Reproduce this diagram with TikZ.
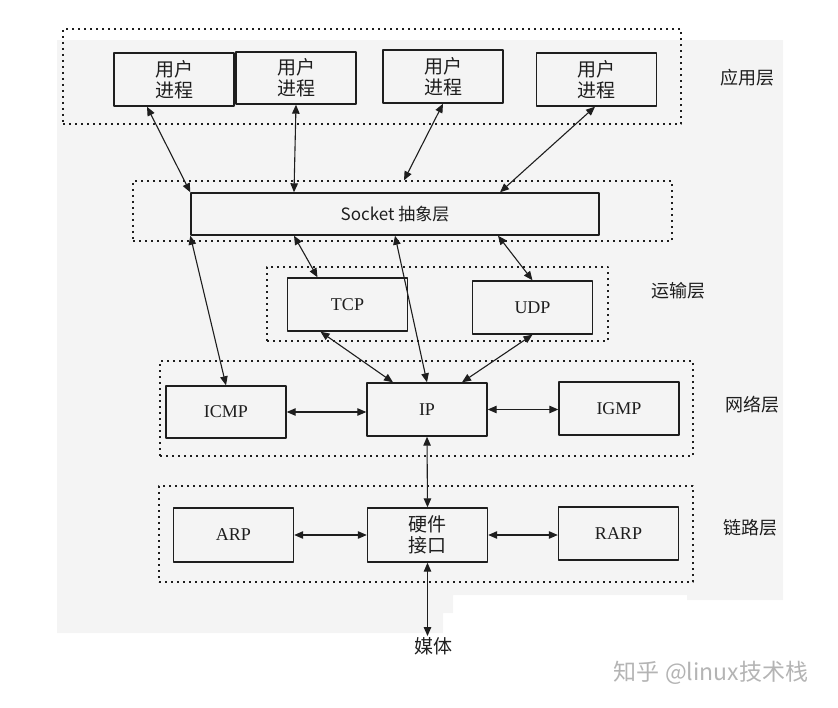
\documentclass[tikz,border=0pt]{standalone}
\usepackage{fontspec}
\setmainfont{Liberation Serif}
\newfontfamily\cjk{Noto Sans CJK SC}
\usepackage{tikz}
\usetikzlibrary{arrows.meta,positioning,calc}
\definecolor{bggray}{RGB}{244,244,244}
\definecolor{inkgray}{RGB}{30,30,30}
\definecolor{markgray}{RGB}{180,180,180}
\newcommand \mylayer[4]
{
\node[layer, minimum width=#3, minimum height=#4] (#1) at (#2) {};
}

\begin{document}
\begin{tikzpicture}[x=1pt, y=-1pt, line join=round,
  proc/.style={draw=inkgray, line width=1.4pt, minimum width=120pt, minimum height=53pt,
    inner sep=0pt, align=center, text=inkgray, font=\cjk\fontsize{19}{21}\selectfont},
  proto/.style={proc, font=\fontsize{18}{20}\selectfont},
  layer/.style={draw=inkgray, line width=1.3pt, dash pattern=on 1.6pt off 4.4pt, inner sep=0pt},
  layername/.style={text=inkgray, font=\cjk\fontsize{18}{20}\selectfont},
  link/.style={draw=inkgray, line width=1.1pt,
    {Triangle[length=9pt,width=7.5pt]}-{Triangle[length=9pt,width=7.5pt]}}]
\useasboundingbox (0,0) rectangle (838,707);
\fill[bggray] (57,40) -- (783,40) -- (783,600) -- (687,600) -- (687,595) -- (453,595)
  -- (453,613) -- (443,613) -- (443,633) -- (57,633) -- cycle;
% dotted layer frames
\mylayer{app}{372,76.5}{618pt}{95pt}
\mylayer{sock}{402.5,211}{539pt}{60pt}
\mylayer{tran}{437.5,304}{341pt}{74pt}
\mylayer{net}{426.5,408.5}{533pt}{95pt}
\mylayer{link}{426,534}{534pt}{96pt}
\node[layername] (appname) at (747,78) {应用层};
\node[layername] (tranname) at (678,291) {运输层};
\node[layername] (netname) at (752,405) {网络层};
\node[layername] (linkname) at (750,528) {链路层};
% boxes
\node[proc] (user1) at (174,79.5) {用户\\进程};
\node[proc, minimum height=52pt] (user2) at (296,78) {用户\\进程};
\node[proc] (user3) at (443,76.5) {用户\\进程};
\node[proc] (user4) at (596.5,79.5) {用户\\进程};
\node[proc, minimum width=408pt, minimum height=42pt, font=\cjk\fontsize{17}{19}\selectfont] (socket) at (395,214) {Socket 抽象层};
\node[proto] (tcp) at (347.5,304.5) {TCP};
\node[proto] (udp) at (532.5,307.5) {UDP};
\node[proto, minimum height=52pt] (icmp) at (226,412) {ICMP};
\node[proto] (ip) at (427,409.5) {IP};
\node[proto] (igmp) at (619,408.5) {IGMP};
\node[proto, minimum height=54pt] (arp) at (233.5,535) {ARP};
\node[proc, minimum height=54pt] (hw) at (427.5,535) {硬件\\接口};
\node[proto] (rarp) at (618.5,533.5) {RARP};
\node[layername, inner sep=1pt, font=\cjk\fontsize{19}{21}\selectfont] (media) at (433,646) {媒体};
\node[text=markgray, font=\cjk\fontsize{23}{25}\selectfont] (mark) at (711,673) {知乎 @linux技术栈};
% connectors
\draw[link] ([xshift=-27pt]user1.south) -- (socket.north west);
\draw[link] (user2.south) -- ([xshift=-101pt]socket.north);
\draw[link] (user3.south) -- ([xshift=1.5pt]sock.north);
\draw[link] ([xshift=-1.5pt]user4.south) -- ([xshift=105pt]socket.north);
\draw[link] (socket.south west) -- (icmp.north);
\draw[link] ([xshift=-101pt]socket.south) -- ([xshift=-30pt]tcp.north);
\draw[link] (socket.south) -- (ip.north);
\draw[link] ([xshift=103pt]socket.south) -- (udp.north);
\draw[link] ([xshift=-27pt]tcp.south) -- ([xshift=-34pt]ip.north);
\draw[link] (udp.south) -- ([xshift=35pt]ip.north);
\draw[link] (icmp.east) -- (icmp.east -| ip.west);
\draw[link] (ip.east) -- (ip.east -| igmp.west);
\draw[link] (ip.south) -- (hw.north);
\draw[link] (arp.east) -- (arp.east -| hw.west);
\draw[link] (hw.east) -- (hw.east -| rarp.west);
\draw[link] (hw.south) -- (hw.south |- media.north);
\end{tikzpicture}
\end{document}
